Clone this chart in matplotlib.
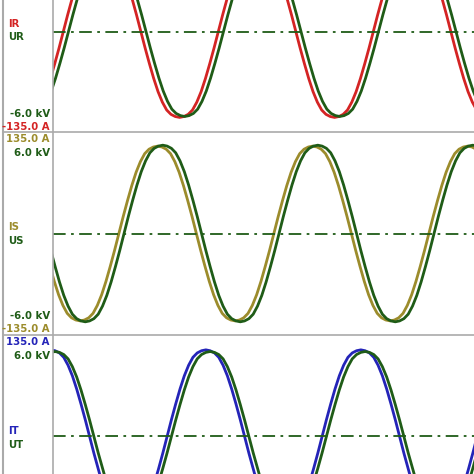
import matplotlib
matplotlib.use("Agg")
import matplotlib.pyplot as plt
import numpy as np

# one normalized cycle, 10 degree steps (slightly flat-topped)
cycle = [0, .19, .37, .54, .69, .81, .90, .95, .975, .985, .975, .95, .90, .81, .69, .54, .37, .19,
         0, -.19, -.37, -.54, -.69, -.81, -.90, -.95, -.975, -.985, -.975, -.95, -.90, -.81, -.69, -.54, -.37, -.19]
phases = ["R", "S", "T"]
volt_phase_deg = [324, 195, 85]
current_lead_deg = [12, 12, 10]
volt_peak_kv = [5.1, 5.3, 5.1]
curr_peak_a = [116, 118, 117]
v_colors = ["#1f5c17", "#1f5c17", "#1f5c17"]
i_colors = ["#d42424", "#9c8c2c", "#2424b8"]
period_ms = 20.0
window_ms = 421 / 155 * period_ms
vlim, ilim = 6.0, 135.0

W = H = 474
fig = plt.figure(figsize=(4.74, 4.74), dpi=100)
fig.patch.set_facecolor("white")
panel_tops = [-70, 132, 335]
ph = 203
x0 = 53

def wave(phase_deg, amp):
    n = 36 * 6
    k = np.arange(n)
    ang = k * 10.0
    t = (ang - phase_deg - 720) / 360 * period_ms
    vals = np.array([cycle[i % 36] for i in k]) * amp
    return t, vals

for p in range(3):
    top = panel_tops[p]
    ax = fig.add_axes([x0 / W, 1 - (top + ph) / H, (W - x0) / W, ph / H])
    ax.set_xlim(0, window_ms)
    ax.set_ylim(-vlim, vlim)
    ax.axis("off")
    ax2 = ax.twinx()
    ax2.set_xlim(0, window_ms)
    ax2.set_ylim(-ilim, ilim)
    ax2.axis("off")
    t, v = wave(volt_phase_deg[p], volt_peak_kv[p])
    ti, iv = wave(volt_phase_deg[p] + current_lead_deg[p], curr_peak_a[p])
    ax2.plot(ti, iv, color=i_colors[p], lw=2.0)
    ax2.plot(t, v * ilim / vlim, color=v_colors[p], lw=2.0)
    ax2.axhline(0, color="#1f5c17", lw=1.3, ls=(0, (7, 3, 1.5, 3)))

def hline(y):
    fig.add_artist(plt.Line2D([3 / W, 1], [1 - y / H] * 2, color="#aaaaaa", lw=1.2))
hline(132); hline(335)
fig.add_artist(plt.Line2D([x0 / W] * 2, [0, 1], color="#aaaaaa", lw=1.2))
fig.add_artist(plt.Line2D([3 / W] * 2, [0, 1], color="#aaaaaa", lw=1.5))

def txt(x, y, s, c, ha="right"):
    fig.text(x / W, 1 - y / H, s, color=c, ha=ha, va="center", fontsize=7.3,
             fontweight="bold", family="DejaVu Sans")

g = "#1f5c17"
txt(8, 24, "IR", i_colors[0], "left"); txt(8, 37, "UR", g, "left")
txt(50, 114, "-6.0 kV", g); txt(50, 127, "-135.0 A", i_colors[0])
txt(50, 139, "135.0 A", i_colors[1]); txt(50, 153, "6.0 kV", g)
txt(8, 227, "IS", i_colors[1], "left"); txt(8, 241, "US", g, "left")
txt(50, 316, "-6.0 kV", g); txt(50, 329, "-135.0 A", i_colors[1])
txt(50, 342, "135.0 A", i_colors[2]); txt(50, 356, "6.0 kV", g)
txt(8, 431, "IT", i_colors[2], "left"); txt(8, 445, "UT", g, "left")

fig.savefig("out.png", dpi=100)
